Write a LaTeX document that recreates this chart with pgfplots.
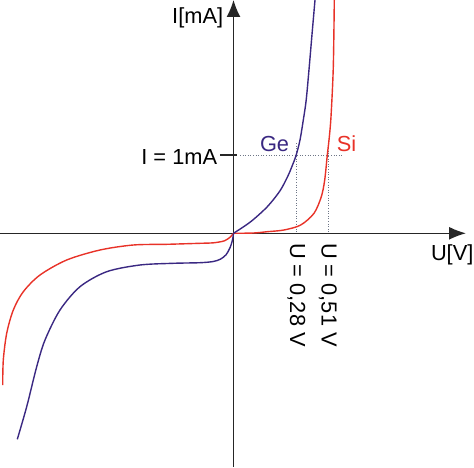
\documentclass[border=0pt]{standalone}
\usepackage{fontspec}
\setmainfont{Liberation Sans}
\usepackage{pgfplots}
\pgfplotsset{compat=1.18}
\usetikzlibrary{arrows.meta}
\definecolor{gecol}{RGB}{58,40,130}
\definecolor{sicol}{RGB}{232,50,40}
\definecolor{dotcol}{RGB}{110,118,135}

\begin{document}
\begin{tikzpicture}[lbl/.style={inner sep=0pt, font=\fontsize{21.8}{26}\selectfont}]
\begin{axis}[
    scale only axis,
    width=474pt, height=467pt,
    xmin=-233.5, xmax=240.5,
    ymin=-233.7, ymax=233.3,
    hide axis,
    clip=false,
    every axis plot/.append style={line width=1.4pt, smooth},
  ]
  % axes
  \draw[line width=1.3pt, black!85, -{Latex[length=17pt,width=13pt]}]
    (axis cs:-233.5,0) -- (axis cs:232.5,0);
  \draw[line width=1.3pt, black!85, -{Latex[length=17pt,width=14pt]}]
    (axis cs:0,-233.7) -- (axis cs:0,233.3);
  % 1 mA mark and guides
  \draw[line width=1.2pt, black!85] (axis cs:-13.5,78.3) -- (axis cs:3.5,78.3);
  \draw[dotcol, line width=1pt, dash pattern=on 1pt off 1.6pt]
    (axis cs:6.5,78.3) -- (axis cs:108.5,78.3);
  \draw[dotcol, line width=1pt, dash pattern=on 1pt off 1.6pt]
    (axis cs:62.7,90.3) -- (axis cs:62.7,0);
  \draw[dotcol, line width=1pt, dash pattern=on 1pt off 1.6pt]
    (axis cs:94.5,90.3) -- (axis cs:94.5,0);

  % Si
  \addplot[sicol] coordinates {
    (-230.8,-151.7) (-230.2,-126.7) (-226.8,-100) (-220.2,-76.7)
    (-210.2,-58.4) (-193.5,-41.7) (-166.8,-26.7) (-133.5,-16.7)
    (-100.2,-11.7) (-66.8,-11) (-33.5,-10) (-20,-9.5) (-9,-7.5)
    (-3,-3.5) (0,0)
  };
  \addplot[sicol] coordinates {
    (0,0) (20,0.3) (33.8,1.6) (50.5,3.3) (67.2,8.3) (80.5,20)
    (87.8,36.6) (91.2,53.3) (93.8,78.3) (95.5,93.3) (97.5,116.6)
    (99.8,166.6) (100.8,233.3)
  };
  % Ge
  \addplot[gecol] coordinates {
    (-216.2,-206) (-206.8,-173.4) (-196.8,-133.4) (-188.5,-106.7)
    (-173.5,-76.7) (-153.5,-53.4) (-126.8,-38.4) (-93.5,-31.7)
    (-60.2,-30) (-33.5,-29.4) (-20.2,-28.2) (-13,-25.8) (-7.5,-21.5)
    (-3.5,-14.5) (-1,-6.5) (0,0)
  };
  \addplot[gecol] coordinates {
    (0,0) (17.2,11.6) (33.8,26.6) (46.5,42.5) (54.5,57.5) (59.5,69.5)
    (62.7,78.3) (66.5,93.3) (69.8,113.3) (72.7,133.3) (75.7,166)
    (78.6,200) (81.5,233.3)
  };

  % labels
  \node[lbl, anchor=base east] at (axis cs:-10.2,209.8) {I[mA]};
  \node[lbl, anchor=base west] at (axis cs:197.3,-27.4) {U[V]};
  \node[lbl, anchor=base east] at (axis cs:-16.2,69) {I = 1mA};
  \node[lbl, anchor=base east, text=gecol] at (axis cs:55.8,81.6) {Ge};
  \node[lbl, anchor=base west, text=sicol] at (axis cs:103.2,81.6) {Si};
  \node[lbl, anchor=base west, rotate=-90] at (axis cs:56.5,-9.7) {U = 0,28 V};
  \node[lbl, anchor=base west, rotate=-90] at (axis cs:88,-9.7) {U = 0,51 V};

  \coordinate (bl) at (rel axis cs:0,0);
  \coordinate (tr) at (rel axis cs:1,1);
\end{axis}
\pgfresetboundingbox
\useasboundingbox (bl) rectangle (tr);
\end{tikzpicture}
\end{document}
